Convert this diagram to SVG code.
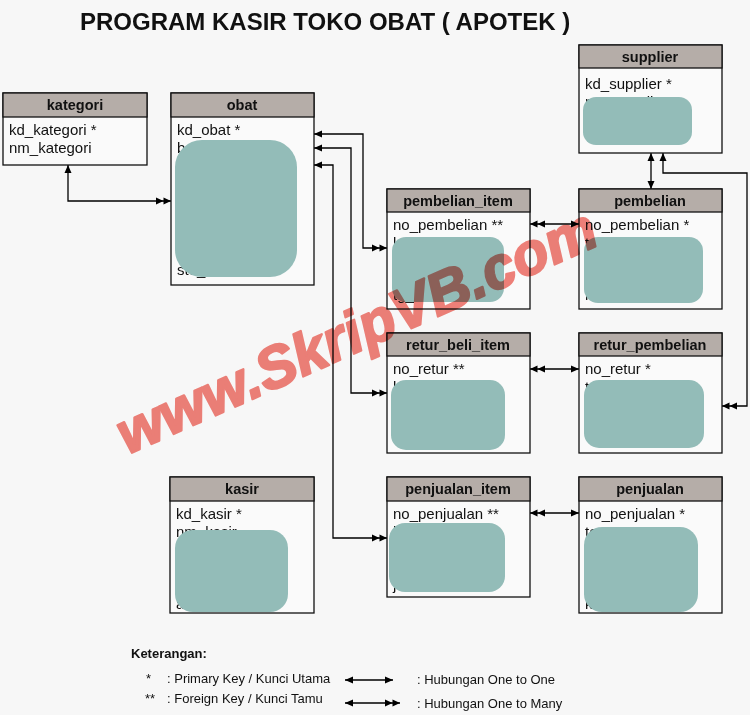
<svg xmlns="http://www.w3.org/2000/svg" width="750" height="715" viewBox="0 0 750 715">
<defs>
<marker id="one" viewBox="0 0 8 8" refX="8" refY="4" markerWidth="8" markerHeight="8" markerUnits="userSpaceOnUse" orient="auto-start-reverse"><path d="M0,0.5 L8,4 L0,7.5 Z" fill="#000"/></marker>
<marker id="many" viewBox="0 0 15 8" refX="15" refY="4" markerWidth="15" markerHeight="8" markerUnits="userSpaceOnUse" orient="auto-start-reverse"><path d="M0,0.5 L7.5,4 L0,7.5 Z M7.5,0.5 L15,4 L7.5,7.5 Z" fill="#000"/></marker>
<style>
.box{fill:#fafafa;stroke:#111;stroke-width:1.3}
.hdr{fill:#b5ada8;stroke:#111;stroke-width:1.3}
.ht{font-family:"Liberation Sans",Arial,sans-serif;font-weight:bold;font-size:14.5px;fill:#111;text-anchor:middle}
.ft{font-family:"Liberation Sans",Arial,sans-serif;font-size:15px;fill:#111}
.blob{fill:#93bcb8}
.ln{fill:none;stroke:#000;stroke-width:1.3}
.lg{font-family:"Liberation Sans",Arial,sans-serif;font-size:13px;fill:#111}
</style>
</defs>
<rect x="0" y="0" width="750" height="715" fill="#f7f7f7"/>
<text x="80" y="30" font-family="Liberation Sans, Arial, sans-serif" font-weight="bold" font-size="24" fill="#111">PROGRAM KASIR TOKO OBAT ( APOTEK )</text>

<g id="connectors">
<path class="ln" d="M68,165 V201 H171" marker-start="url(#one)" marker-end="url(#many)"/>
<path class="ln" d="M314,134 H363 V248 H387" marker-start="url(#one)" marker-end="url(#many)"/>
<path class="ln" d="M314,148 H351 V393 H387" marker-start="url(#one)" marker-end="url(#many)"/>
<path class="ln" d="M314,165 H333 V538 H387" marker-start="url(#one)" marker-end="url(#many)"/>
<path class="ln" d="M530,224 H579" marker-start="url(#many)" marker-end="url(#one)"/>
<path class="ln" d="M530,369 H579" marker-start="url(#many)" marker-end="url(#one)"/>
<path class="ln" d="M530,513 H579" marker-start="url(#many)" marker-end="url(#one)"/>
<path class="ln" d="M651,153 V189" marker-start="url(#one)" marker-end="url(#one)"/>
<path class="ln" d="M663,153 V173 H747 V406 H722" marker-start="url(#one)" marker-end="url(#many)"/>
</g>

<g id="kategori">
<rect class="box" x="3" y="93" width="144" height="72"/>
<rect class="hdr" x="3" y="93" width="144" height="24"/>
<text class="ht" x="75" y="110">kategori</text>
<text class="ft" x="9" y="135">kd_kategori *</text>
<text class="ft" x="9" y="153">nm_kategori</text>
</g>

<g id="obat">
<rect class="box" x="171" y="93" width="143" height="192"/>
<rect class="hdr" x="171" y="93" width="143" height="24"/>
<text class="ht" x="242" y="110">obat</text>
<text class="ft" x="177" y="135">kd_obat *</text>
<text class="ft" x="177" y="153">bo</text>
<text class="ft" x="177" y="275">sto_</text>
<rect class="blob" x="175" y="140" width="122" height="137" rx="27"/>
</g>

<g id="supplier">
<rect class="box" x="579" y="45" width="143" height="108"/>
<rect class="hdr" x="579" y="45" width="143" height="23"/>
<text class="ht" x="650" y="62">supplier</text>
<text class="ft" x="585" y="89">kd_supplier *</text>
<text class="ft" x="585" y="107">nm_supplier</text>
<rect class="blob" x="583" y="97" width="109" height="48" rx="13"/>
</g>

<g id="pembelian_item">
<rect class="box" x="387" y="189" width="143" height="120"/>
<rect class="hdr" x="387" y="189" width="143" height="23"/>
<text class="ht" x="458" y="206">pembelian_item</text>
<text class="ft" x="393" y="230">no_pembelian **</text>
<text class="ft" x="393" y="248">k</text>
<text class="ft" x="393" y="300">tg_</text>
<rect class="blob" x="392" y="237" width="112" height="65" rx="14"/>
</g>

<g id="pembelian">
<rect class="box" x="579" y="189" width="143" height="120"/>
<rect class="hdr" x="579" y="189" width="143" height="23"/>
<text class="ht" x="650" y="206">pembelian</text>
<text class="ft" x="585" y="230">no_pembelian *</text>
<text class="ft" x="585" y="248">t</text>
<text class="ft" x="585" y="300">k</text>
<rect class="blob" x="584" y="237" width="119" height="66" rx="14"/>
</g>

<g id="retur_beli_item">
<rect class="box" x="387" y="333" width="143" height="120"/>
<rect class="hdr" x="387" y="333" width="143" height="23"/>
<text class="ht" x="458" y="350">retur_beli_item</text>
<text class="ft" x="393" y="374">no_retur **</text>
<text class="ft" x="393" y="392">k</text>
<rect class="blob" x="391" y="380" width="114" height="70" rx="15"/>
</g>

<g id="retur_pembelian">
<rect class="box" x="579" y="333" width="143" height="120"/>
<rect class="hdr" x="579" y="333" width="143" height="23"/>
<text class="ht" x="650" y="350">retur_pembelian</text>
<text class="ft" x="585" y="374">no_retur *</text>
<text class="ft" x="585" y="392">t</text>
<rect class="blob" x="584" y="380" width="120" height="68" rx="15"/>
</g>

<g id="kasir">
<rect class="box" x="170" y="477" width="144" height="136"/>
<rect class="hdr" x="170" y="477" width="144" height="24"/>
<text class="ht" x="242" y="494">kasir</text>
<text class="ft" x="176" y="519">kd_kasir *</text>
<text class="ft" x="176" y="537">nm_kasir</text>
<text class="ft" x="176" y="609">a</text>
<rect class="blob" x="175" y="530" width="113" height="82" rx="18"/>
</g>

<g id="penjualan_item">
<rect class="box" x="387" y="477" width="143" height="120"/>
<rect class="hdr" x="387" y="477" width="143" height="24"/>
<text class="ht" x="458" y="494">penjualan_item</text>
<text class="ft" x="393" y="519">no_penjualan **</text>
<text class="ft" x="393" y="537">k</text>
<text class="ft" x="393" y="590">j</text>
<rect class="blob" x="389" y="523" width="116" height="69" rx="16"/>
</g>

<g id="penjualan">
<rect class="box" x="579" y="477" width="143" height="136"/>
<rect class="hdr" x="579" y="477" width="143" height="24"/>
<text class="ht" x="650" y="494">penjualan</text>
<text class="ft" x="585" y="519">no_penjualan *</text>
<text class="ft" x="585" y="537">to</text>
<text class="ft" x="585" y="609">k</text>
<rect class="blob" x="584" y="527" width="114" height="85" rx="18"/>
</g>

<g id="legend">
<text x="131" y="658" font-family="Liberation Sans, Arial, sans-serif" font-weight="bold" font-size="13" fill="#111">Keterangan:</text>
<text class="lg" x="146" y="683">*</text>
<text class="lg" x="167" y="683">: Primary Key / Kunci Utama</text>
<text class="lg" x="145" y="703">**</text>
<text class="lg" x="167" y="703">: Foreign Key / Kunci Tamu</text>
<path class="ln" d="M345,680 H393" stroke-width="1.6" marker-start="url(#one)" marker-end="url(#one)"/>
<path class="ln" d="M345,703 H400" stroke-width="1.6" marker-start="url(#one)" marker-end="url(#many)"/>
<text class="lg" x="417" y="684">: Hubungan One to One</text>
<text class="lg" x="417" y="708">: Hubungan One to Many</text>
</g>

<text transform="translate(356,330) rotate(-24)" x="0" y="21" text-anchor="middle" font-family="Liberation Sans, Arial, sans-serif" font-weight="bold" font-style="italic" font-size="59" fill="#f2827a" stroke="#f2827a" stroke-width="2.2" stroke-linejoin="round" style="mix-blend-mode:multiply">www.SkripVB.com</text>
</svg>
